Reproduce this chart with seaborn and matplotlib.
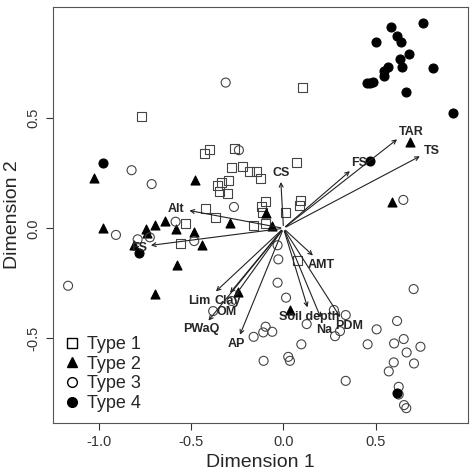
import matplotlib
matplotlib.use("Agg")
import matplotlib.pyplot as plt
import seaborn as sns
import pandas as pd

sns.set_style("ticks")
plt.rcParams['font.family'] = ['Liberation Sans', 'DejaVu Sans']

t1_x = [-0.771,-0.403,-0.427,-0.267,-0.285,-0.224,-0.186,-0.144,-0.124,-0.300,-0.336,-0.361,-0.345,-0.305,
        -0.095,-0.122,-0.115,0.010,-0.421,-0.368,-0.162,-0.099,-0.534,-0.557,0.106,0.070,0.095,0.086,0.077]
t1_y = [0.510,0.360,0.339,0.364,0.275,0.280,0.260,0.260,0.227,0.216,0.207,0.194,0.165,0.159,
        0.124,0.097,0.074,0.070,0.092,0.047,0.015,0.020,0.024,-0.070,0.638,0.300,0.125,0.105,-0.147]
t2_x = [-1.030,-0.481,-0.979,-0.747,-0.698,-0.644,-0.584,-0.488,-0.744,-0.445,-0.291,-0.093,-0.061,-0.580,
        -0.811,0.689,0.590,-0.698,-0.246,0.037]
t2_y = [0.227,0.220,0.003,-0.005,0.015,0.033,-0.005,-0.015,-0.023,-0.076,0.024,0.068,0.012,-0.167,
        -0.076,0.394,0.120,-0.300,-0.288,-0.371]
t3_x = [-0.314,-0.242,-0.825,-0.716,-0.269,-0.586,-0.910,-0.792,-0.726,-0.485,-0.032,-0.028,0.651,-1.170,
        -0.032,0.014,-0.382,-0.282,-0.097,-0.110,-0.061,-0.162,-0.108,0.026,0.035,0.097,0.126,0.274,0.338,
        0.307,0.280,0.506,0.457,0.338,0.707,0.617,0.653,0.601,0.744,0.669,0.599,0.709,0.572,0.626,0.626,
        0.655,0.667]
t3_y = [0.662,0.355,0.264,0.201,0.097,0.030,-0.030,-0.050,-0.041,-0.058,-0.077,-0.141,0.129,-0.261,
        -0.247,-0.315,-0.376,-0.330,-0.447,-0.473,-0.470,-0.493,-0.602,-0.584,-0.602,-0.527,-0.435,-0.371,-0.394,
        -0.467,-0.490,-0.459,-0.527,-0.693,-0.276,-0.421,-0.503,-0.523,-0.538,-0.564,-0.609,-0.614,-0.650,-0.720,-0.755,
        -0.803,-0.817]
t4_x = [-0.983,-0.787,0.586,0.760,0.503,0.619,0.639,0.680,0.635,0.646,0.568,0.548,0.545,0.813,0.452,0.470,
        0.485,0.667,0.920,0.470,0.615]
t4_y = [0.298,-0.111,0.914,0.932,0.845,0.874,0.847,0.791,0.771,0.733,0.732,0.716,0.691,0.727,0.660,0.662,
        0.664,0.618,0.523,0.305,-0.750]

vec_names = ["Alt","FS","CS","FS","TAR","TS","AMT","Lim","Clay","OM","PWaQ","AP","Soil depth","Na","PDM"]
vec_x = [-0.526,-0.735,-0.015,0.372,0.629,0.754,0.171,-0.378,-0.300,-0.273,-0.417,-0.242,0.135,0.208,0.316]
vec_y = [0.083,-0.079,0.223,0.268,0.412,0.333,-0.132,-0.295,-0.303,-0.318,-0.429,-0.495,-0.371,-0.417,-0.414]
lab_x = [-0.584,-0.785,-0.015,0.412,0.693,0.805,0.204,-0.455,-0.305,-0.309,-0.448,-0.254,0.140,0.222,0.358]
lab_y = [0.089,-0.088,0.253,0.295,0.439,0.351,-0.167,-0.329,-0.329,-0.379,-0.459,-0.527,-0.405,-0.462,-0.443]

frames = []
for name, xs, ys in [("Type 1", t1_x, t1_y), ("Type 2", t2_x, t2_y), ("Type 3", t3_x, t3_y), ("Type 4", t4_x, t4_y)]:
    frames.append(pd.DataFrame({"x": xs, "y": ys, "type": name}))
df = pd.concat(frames)

fig = plt.figure(figsize=(4.74, 4.72), dpi=100)
ax = fig.add_axes([0.111, 0.104, 0.877, 0.881])

styles = {"Type 1": ("s", "none"), "Type 2": ("^", "black"), "Type 3": ("o", "none"), "Type 4": ("o", "black")}
for name, (m, fc) in styles.items():
    sub = df[df["type"] == name]
    sns.scatterplot(data=sub, x="x", y="y", ax=ax, marker=m, s=42, facecolors=fc,
                    edgecolor="black" if fc == "black" else "#444444", linewidth=0.8, label=name, legend=False)

for vx, vy in zip(vec_x, vec_y):
    ax.annotate("", xy=(vx, vy), xytext=(0, 0),
                arrowprops=dict(arrowstyle="->", color="#222222", lw=0.8, mutation_scale=7))
for n, lx, ly in zip(vec_names, lab_x, lab_y):
    ax.text(lx, ly, n, fontsize=9, fontweight="bold", ha="center", va="center")

ax.set_xlim(-1.254, 1.004)
ax.set_ylim(-0.884, 1.005)
ax.set_xticks([-1.0, -0.5, 0.0, 0.5])
ax.set_xticklabels(["-1.0", "-0.5", "0.0", "0.5"])
ax.set_yticks([-0.5, 0.0, 0.5])
ax.set_yticklabels(["-0.5", "0.0", "0.5"], rotation=90, va="center")
ax.tick_params(labelsize=10.5, colors="#333333", length=5)
ax.set_xlabel("Dimension 1", fontsize=14)
ax.set_ylabel("Dimension 2", fontsize=14)
for s in ax.spines.values():
    s.set_visible(True)
    s.set_color("#555555")

handles = [plt.Line2D([], [], marker=styles[k][0], linestyle="none", markerfacecolor=styles[k][1],
                      markeredgecolor="black", markersize=7) for k in styles]
ax.legend(handles, list(styles.keys()), loc="lower left", frameon=False, fontsize=13,
          handletextpad=0.3, labelspacing=0.15, borderaxespad=0.2, handlelength=1.0)

fig.savefig("out.png", dpi=100)
